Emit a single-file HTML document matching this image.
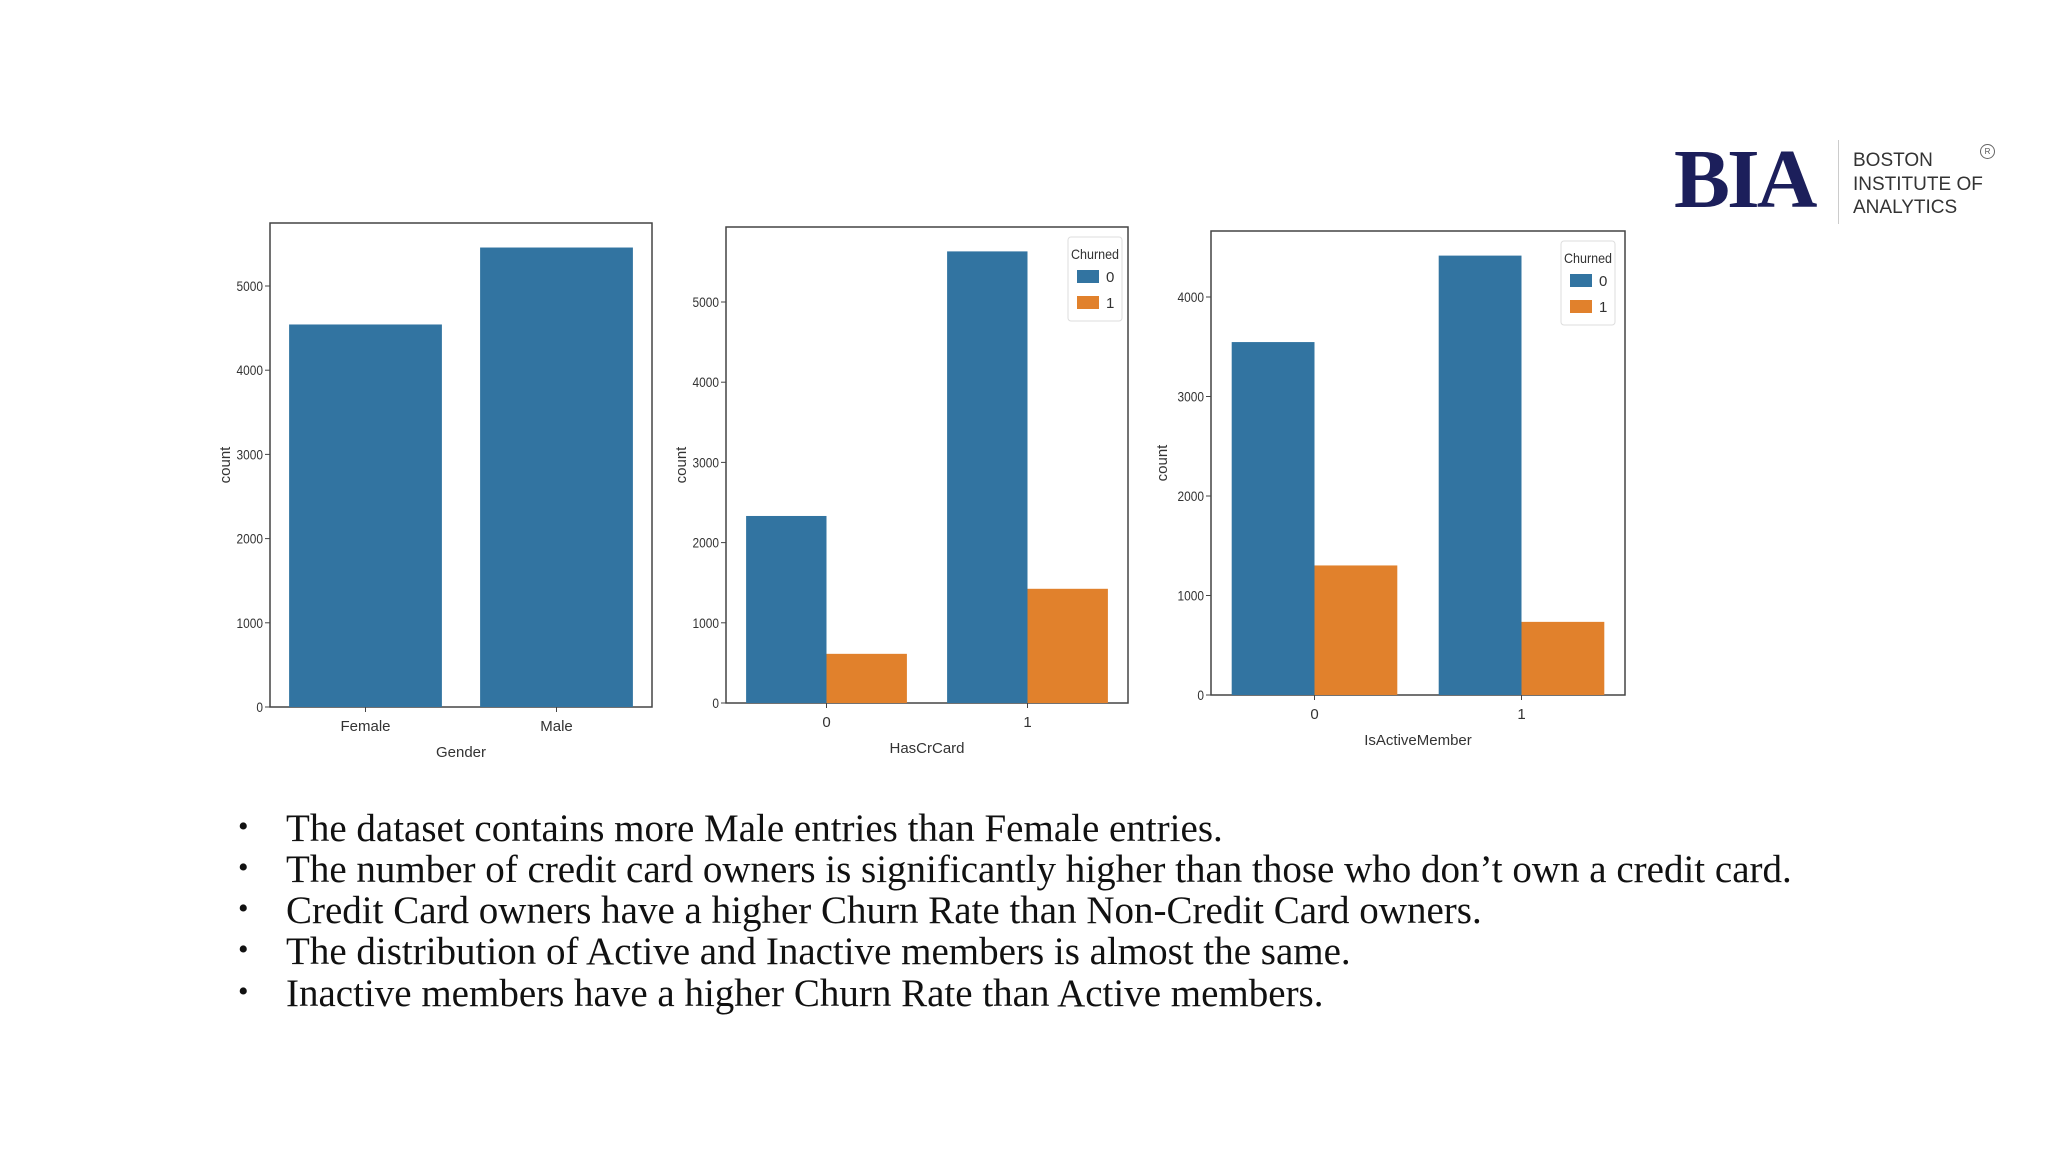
<!DOCTYPE html>
<html><head><meta charset="utf-8">
<style>
html,body{margin:0;padding:0;background:#fff;}
body{width:2048px;height:1152px;position:relative;overflow:hidden;font-family:"Liberation Sans",sans-serif;}
#charts{position:absolute;left:0;top:0;}
.bul{position:absolute;left:0;font-family:"Liberation Serif",serif;font-size:39px;color:#111;white-space:nowrap;}
.bul .dot{position:absolute;left:238px;font-size:30px;top:4px;}
.bul .t{position:absolute;left:286px;}
</style></head>
<body>
<svg id="charts" width="2048" height="1152"></svg>

<div style="position:absolute;left:1674px;top:138px;">
  <div style="position:absolute;left:0;top:0;font-family:'Liberation Serif',serif;font-weight:bold;font-size:84px;line-height:84px;color:#1c1f5b;letter-spacing:-3px;white-space:nowrap;">BIA</div>
  <div style="position:absolute;left:164px;top:2px;width:1px;height:84px;background:#ccc;"></div>
  <div style="position:absolute;left:179px;top:11px;font-size:19px;line-height:23.5px;color:#333;white-space:nowrap;">BOSTON<br>INSTITUTE OF<br>ANALYTICS</div>
  <div style="position:absolute;left:306px;top:6px;width:13px;height:13px;border:1px solid #666;border-radius:50%;font-size:8px;line-height:13px;text-align:center;color:#555;">R</div>
</div>

<div class="bul" style="top:806px"><span class="dot">•</span><span class="t">The dataset contains more Male entries than Female entries.</span></div>
<div class="bul" style="top:847px"><span class="dot">•</span><span class="t">The number of credit card owners is significantly higher than those who don’t own a credit card.</span></div>
<div class="bul" style="top:888px"><span class="dot">•</span><span class="t">Credit Card owners have a higher Churn Rate than Non-Credit Card owners.</span></div>
<div class="bul" style="top:929px"><span class="dot">•</span><span class="t">The distribution of Active and Inactive members is almost the same.</span></div>
<div class="bul" style="top:971px"><span class="dot">•</span><span class="t">Inactive members have a higher Churn Rate than Active members.</span></div>

<script>
// Chart 1: Gender
const genderCats = ["Female","Male"];
const genderCounts = [4543, 5457];
const genderTicks = [0,1000,2000,3000,4000,5000];
// Chart 2: HasCrCard
const cardCats = ["0","1"];
const cardChurn0 = [2332, 5631];
const cardChurn1 = [613, 1424];
const cardTicks = [0,1000,2000,3000,4000,5000];
// Chart 3: IsActiveMember
const activeCats = ["0","1"];
const activeChurn0 = [3547, 4416];
const activeChurn1 = [1302, 735];
const activeTicks = [0,1000,2000,3000,4000];
const legendLabels = ["0","1"];

const BLUE="#3274a1", ORANGE="#e1812c";
const svg=document.getElementById('charts');
const NS="http://www.w3.org/2000/svg";
function mk(tag,attrs,parent){const e=document.createElementNS(NS,tag);for(const k in attrs)e.setAttribute(k,attrs[k]);(parent||svg).appendChild(e);return e;}

function drawChart(cfg){
  const g=mk('g',{});
  
  
  const {L,R,T,B,yMax}=cfg;
  const y=v=>B-(v/yMax)*(B-T);
  const n=cfg.cats.length, band=(R-L)/n;
  const xc=i=>L+band*(i+0.5);
  const frame=mk('rect',{x:L,y:T,width:R-L,height:B-T,fill:'none',stroke:'#444','stroke-width':1.5},g);
  
  
  cfg.ticks.forEach(t=>{
    const ln=mk('line',{x1:L-5,x2:L,y1:y(t),y2:y(t),stroke:'#444','stroke-width':1},g);
    
    
    const tx=mk('text',{x:L-7,y:y(t)+5,'text-anchor':'end','font-size':14,fill:'#333',transform:`translate(${(L-7)*0.15},0) scale(0.85,1)`},g);
    tx.setAttribute('x',(L-7)/0.85 - (L-7)*0.15/0.85);
    tx.textContent=t;
    
    
  });
  const bw=band*0.8;
  const series=cfg.series;
  cfg.cats.forEach((c,i)=>{
    const sw=bw/series.length;
    series.forEach((s,j)=>{
      const x0=xc(i)-bw/2+j*sw;
      const r=mk('rect',{x:x0,y:y(s.vals[i]),width:sw,height:B-y(s.vals[i]),fill:s.color},g);
      
      
    });
    const tk=mk('line',{x1:xc(i),x2:xc(i),y1:B,y2:B+5,stroke:'#444'},g);
    
    
    const tl=mk('text',{x:xc(i),y:B+24,'text-anchor':'middle','font-size':15,fill:'#333'},g);
    tl.textContent=c;
    
    
  });
  const xt=mk('text',{x:(L+R)/2,y:B+50,'text-anchor':'middle','font-size':15,fill:'#333'},g);
  xt.textContent=cfg.xTitle;
  
  
  const yt=mk('text',{x:0,y:0,'text-anchor':'middle','font-size':15,fill:'#333',transform:`translate(${cfg.yTitleX},${(T+B)/2}) rotate(-90)`},g);
  yt.textContent='count';
  
  
  if(series.length>1){
    const lx=cfg.legX, ly=T+10;
    const box=mk('rect',{x:lx,y:ly,width:54,height:84,fill:'#fff',stroke:'#ddd',rx:3},g);
    
    
    const lt=mk('text',{x:lx+27,y:ly+22,'text-anchor':'middle','font-size':14,fill:'#333','textLength':48,'lengthAdjust':'spacingAndGlyphs'},g);
    lt.textContent='Churned';
    
    
    series.forEach((s,j)=>{
      const sq=mk('rect',{x:lx+9,y:ly+33+j*26,width:22,height:13,fill:s.color},g);
      
      
      const st=mk('text',{x:lx+38,y:ly+45+j*26,'font-size':15,fill:'#333'},g);
      st.textContent=legendLabels[j];
      
      
    });
  }
}

drawChart({name:'gender-chart',key:'gender',L:270,R:652,T:223,B:707,yMax:5000*(707-223)/(707-286),
  ticks:genderTicks,cats:genderCats,series:[{vals:genderCounts,color:BLUE}],xTitle:'Gender',yTitleX:230});
drawChart({name:'hascrcard-chart',key:'hascrcard',L:726,R:1128,T:227,B:703,yMax:5000*(703-227)/(703-302),
  ticks:cardTicks,cats:cardCats,series:[{vals:cardChurn0,color:BLUE},{vals:cardChurn1,color:ORANGE}],xTitle:'HasCrCard',yTitleX:686,legX:1068});
drawChart({name:'isactivemember-chart',key:'active',L:1211,R:1625,T:231,B:695,yMax:4000*(695-231)/(695-297),
  ticks:activeTicks,cats:activeCats,series:[{vals:activeChurn0,color:BLUE},{vals:activeChurn1,color:ORANGE}],xTitle:'IsActiveMember',yTitleX:1167,legX:1561});
</script>
</body></html>
